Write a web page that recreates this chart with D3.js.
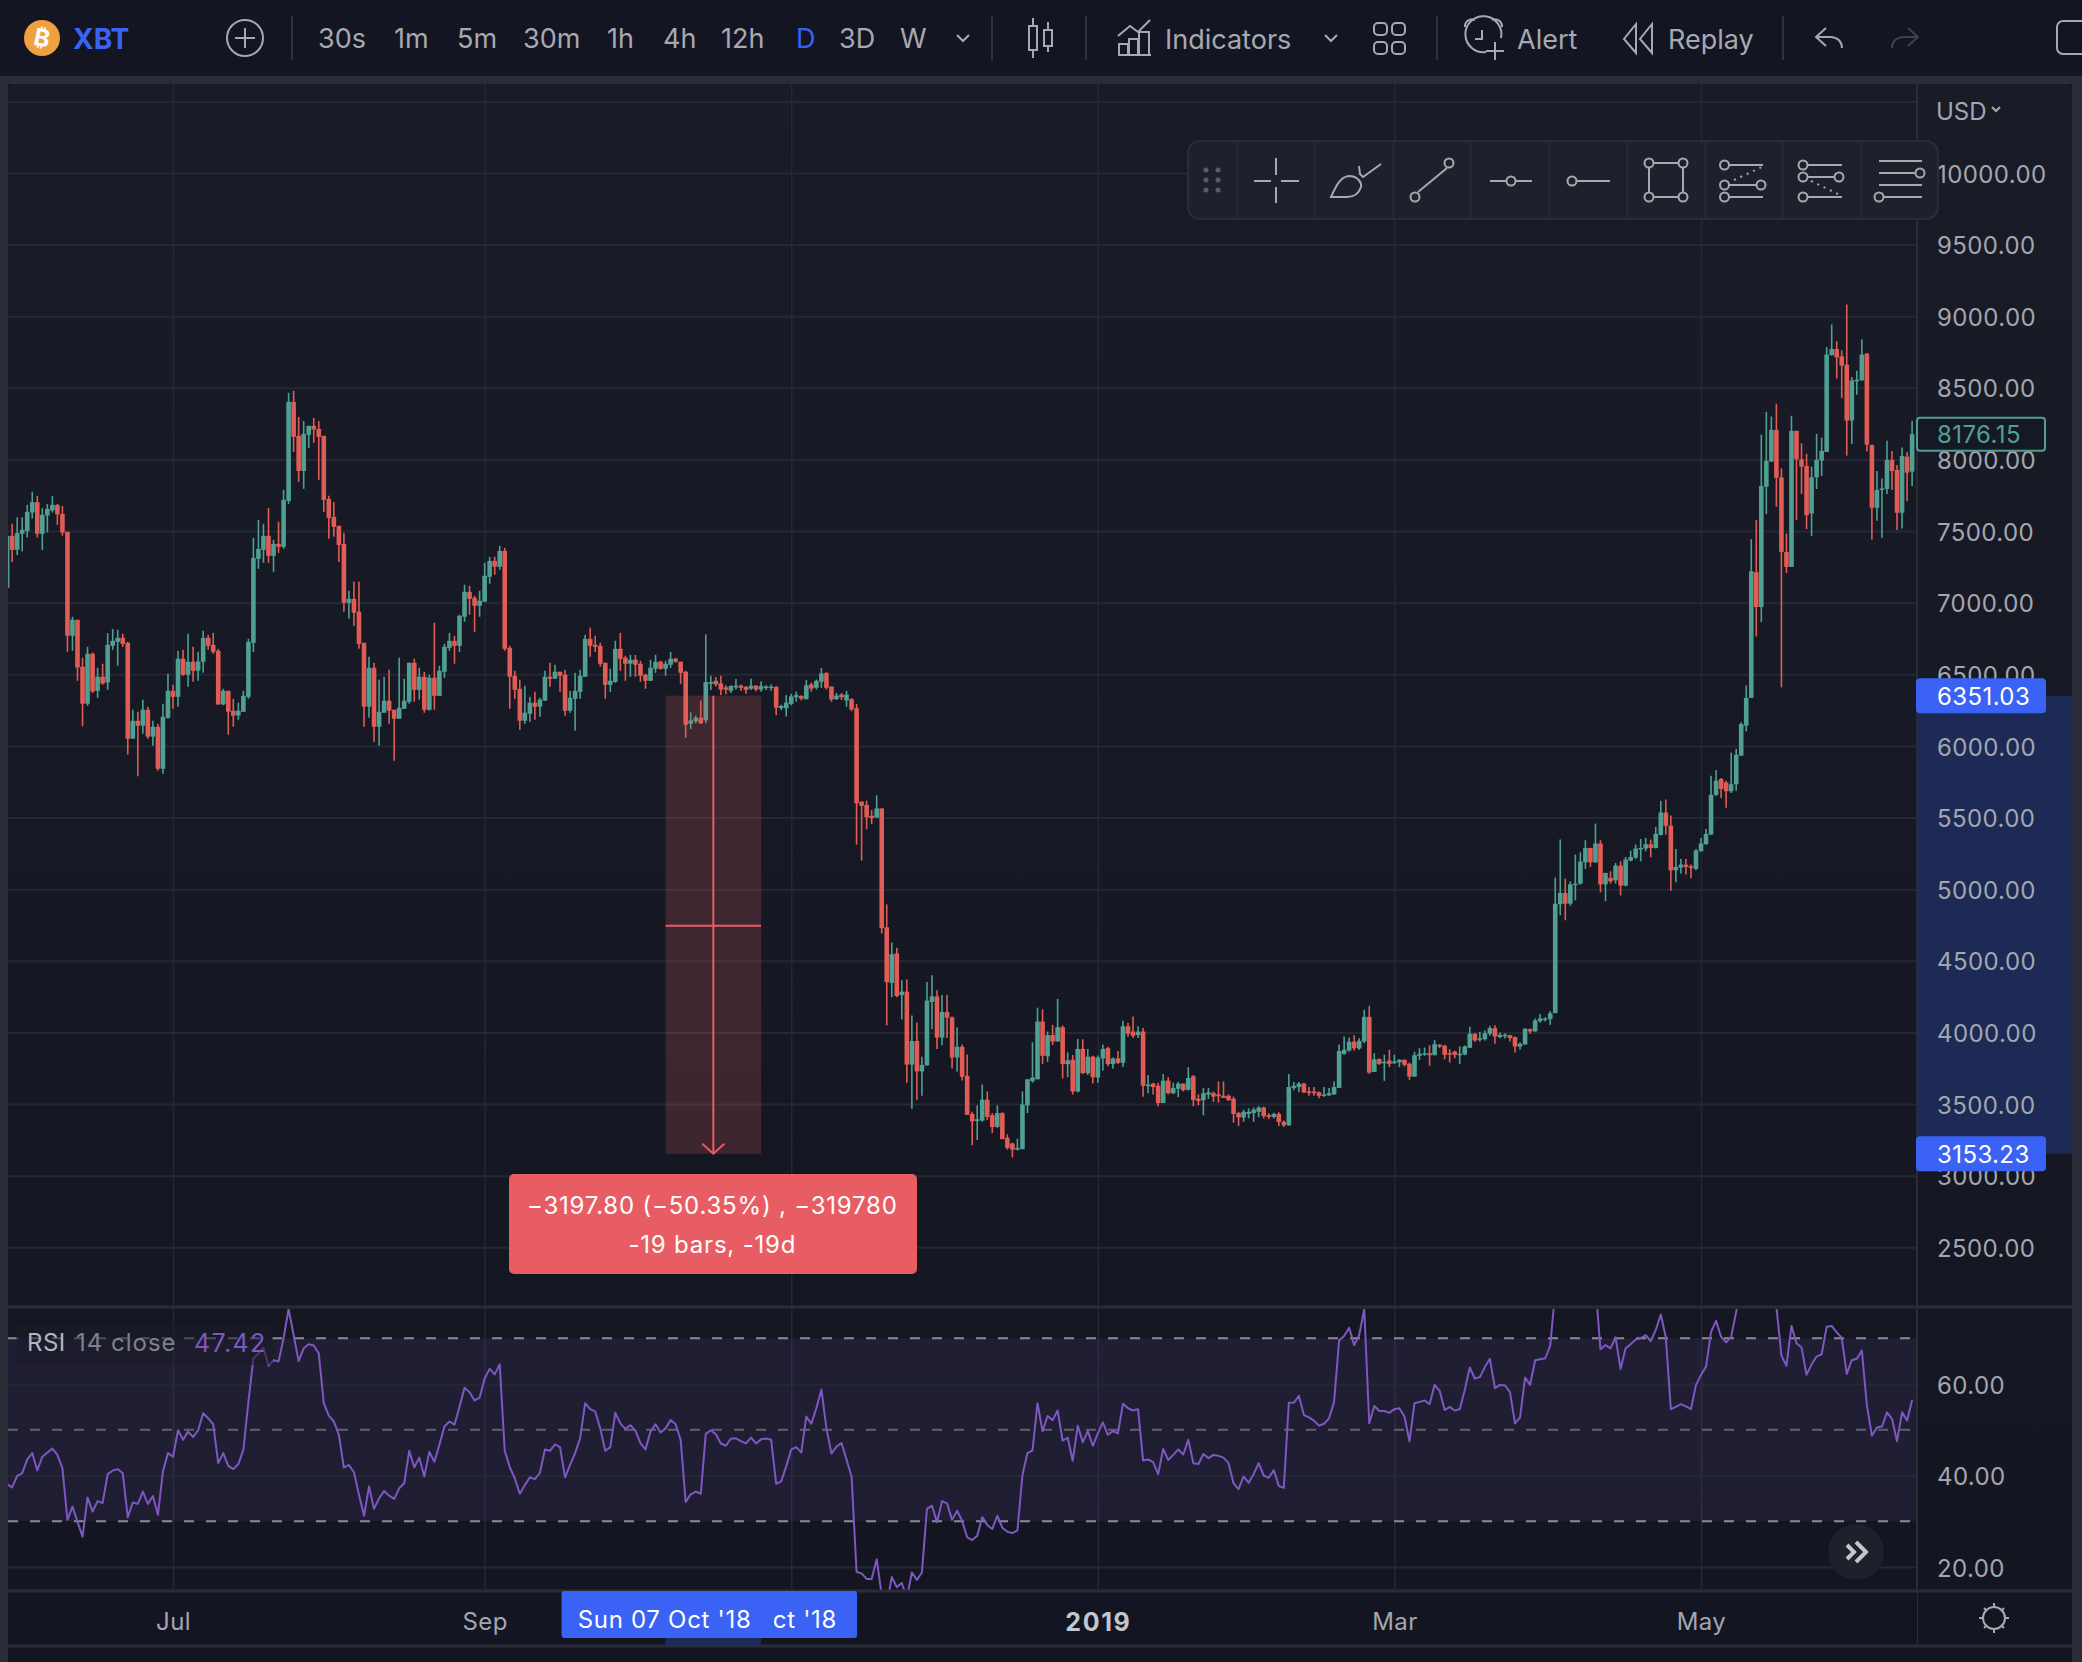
<!DOCTYPE html>
<html lang="en">
<head>
<meta charset="UTF-8">
<title>XBT daily chart</title>
<style>
  html, body { margin: 0; width: 2082px; height: 1662px; background: #131622; overflow: hidden; }
  svg { display: block; }
  text { font-family: Inter, "Noto Sans", sans-serif; }
  .axis text { font-family: Inter, "Noto Sans", sans-serif; font-size: 24px; fill: #a3a6af; letter-spacing: 0.4px; }
  .axis .domain { display: none; }
  .grid .domain { display: none; }
  .grid line { stroke: #252834; }
  .grid text { display: none; }
  .ui { fill: none; stroke: #a7a9b0; stroke-width: 2; }
  .tool { font-size: 27px; fill: #a7a9b0; }
</style>
</head>
<body>
<svg id="chart" width="2082" height="1662"></svg>
<script src="https://d3js.org/d3.v7.min.js"></script>
<script>
// daily bars, first one is 29 May 2018
const firstDay = Date.UTC(2018, 4, 29);

const opens = [
  7104,7467,7369,7481,7500,7630,7702,7481,7609,7644,7683,7620,7495,6769,6881,6553,6295,6644,6385,6483,
  6443,6699,6727,6755,6720,6051,6176,6141,6253,6065,6134,5841,6197,6385,6343,6609,6497,6588,6525,6588,
  6755,6706,6664,6290,6385,6246,6213,6239,6343,6720,7306,7369,7467,7327,7411,7390,7711,8402,8165,7920,
  8172,8235,8214,8165,7725,7599,7537,7411,6999,7027,6937,6720,6274,6546,6134,6232,6316,6253,6190,6260,
  6309,6581,6392,6483,6253,6476,6350,6518,6685,6734,6699,6902,7076,7034,6979,7007,7181,7292,7251,7362,
  6685,6490,6399,6176,6225,6302,6274,6316,6483,6469,6518,6497,6246,6329,6378,6483,6748,6706,6699,6581,
  6427,6448,6678,6616,6574,6602,6574,6497,6455,6539,6588,6539,6567,6609,6588,6518,6155,6173,6197,6179,
  6434,6455,6437,6409,6385,6409,6421,6412,6400,6421,6394,6406,6406,6412,6264,6264,6294,6340,6349,6327,
  6430,6406,6449,6509,6415,6327,6358,6318,6327,6264,5612,5588,5512,5500,5564,4734,4346,4552,4261,4285,
  3776,3940,3728,3770,4213,4252,3964,4143,4106,3825,3900,3697,3431,3382,3385,3531,3422,3340,3437,3264,
  3225,3182,3185,3491,3661,3673,4076,3834,3982,3937,4037,3779,3809,3588,3885,3716,3831,3685,3819,3891,
  3779,3819,3788,4043,4006,3982,4006,3625,3643,3628,3507,3664,3576,3607,3643,3600,3694,3537,3528,3567,
  3576,3567,3558,3558,3537,3437,3407,3431,3437,3446,3476,3422,3410,3431,3376,3352,3613,3619,3643,3588,
  3588,3582,3558,3561,3567,3613,3851,3874,3935,3888,3937,4109,3725,3813,3785,3804,3785,3792,3809,3781,
  3692,3837,3846,3855,3841,3914,3907,3855,3867,3844,3846,3893,3991,3949,3953,3991,4030,3967,3977,3981,
  3967,3902,3916,4023,4007,4079,4088,4093,4135,4895,4974,4899,5032,5039,5188,5288,5188,5319,5034,5079,
  5062,5165,5025,5200,5221,5281,5284,5314,5288,5379,5535,5444,5132,5151,5172,5160,5142,5265,5314,5382,
  5659,5769,5745,5684,5733,5932,6142,6336,7213,6970,7810,7985,8207,7875,7355,7250,8200,8001,7955,7623,
  7875,7992,8053,8727,8771,8720,8662,8272,8545,8552,8739,8102,7663,7787,7794,7997,7927,7628,8020,7915
];
const highs = [
  7467,7551,7597,7597,7683,7774,7746,7660,7690,7746,7690,7676,7495,6902,6881,6616,6692,6653,6546,6574,
  6788,6816,6811,6783,6727,6253,6239,6323,6274,6176,6155,6295,6504,6427,6664,6671,6783,6692,6657,6804,
  6776,6790,6678,6399,6385,6329,6302,6385,6748,7453,7579,7551,7662,7439,7565,7788,8465,8479,8297,8269,
  8235,8290,8269,8165,7746,7704,7537,7488,7083,7146,7146,6720,6622,6581,6462,6483,6532,6253,6616,6469,
  6581,6609,6546,6518,6497,6860,6560,6713,6790,6769,6916,7125,7118,7048,7083,7279,7320,7320,7397,7383,
  6699,6525,6462,6420,6343,6378,6336,6525,6581,6567,6518,6532,6385,6511,6532,6776,6825,6769,6720,6581,
  6539,6734,6790,6630,6636,6636,6595,6504,6602,6636,6595,6595,6657,6616,6588,6525,6234,6212,6318,6779,
  6491,6482,6491,6424,6424,6467,6430,6418,6470,6424,6452,6424,6430,6418,6288,6355,6364,6379,6355,6461,
  6443,6464,6543,6515,6415,6370,6370,6385,6334,6294,5612,5618,5552,5655,5564,4894,4628,4591,4364,4370,
  4119,4070,3831,4352,4400,4294,4261,4261,4112,4034,3916,3846,3446,3491,3637,3588,3437,3491,3443,3288,
  3231,3258,3588,3673,3931,4173,4161,4006,4052,4234,4049,3861,3843,3955,3952,3885,3837,3840,3916,3900,
  3825,3870,4082,4067,4112,4043,4031,3703,3649,3649,3710,3688,3649,3655,3643,3758,3703,3567,3613,3613,
  3588,3658,3658,3567,3552,3446,3461,3470,3476,3485,3482,3437,3440,3443,3385,3710,3655,3655,3649,3619,
  3619,3588,3619,3613,3658,3916,3972,3965,3981,3960,4158,4186,3855,3820,3844,3879,3844,3813,3813,3790,
  3865,3890,3895,3911,3949,3918,3914,3883,3872,3902,3909,4039,3995,4005,4014,4046,4051,4000,3995,3984,
  3972,3930,4030,4028,4098,4128,4107,4149,5081,5347,5074,5055,5242,5258,5342,5288,5458,5342,5114,5125,
  5183,5195,5225,5270,5312,5351,5358,5347,5435,5617,5626,5514,5281,5211,5211,5172,5281,5358,5421,5792,
  5832,5776,5757,5955,5979,6165,6422,7444,7577,8172,8333,8300,8389,7938,7483,8305,8200,8113,8039,7950,
  8179,8153,8785,8942,8825,8762,9082,8575,8620,8837,8743,8102,7920,7868,8130,8060,7962,8083,8050,8270
];
const lows = [
  7104,7285,7334,7358,7455,7588,7455,7369,7490,7630,7544,7467,6657,6664,6455,6137,6281,6369,6336,6427,
  6392,6671,6560,6692,5939,6051,5788,6085,6051,6002,5827,5806,6190,6260,6274,6490,6413,6448,6455,6511,
  6671,6643,6288,6285,6079,6134,6183,6239,6329,6657,7237,7278,7278,7216,7348,7376,7690,8053,7844,7795,
  8081,8116,7858,7634,7446,7460,7285,6937,6888,6839,6678,6134,6197,6029,6002,6232,6155,5897,6190,6260,
  6295,6309,6323,6232,6246,6253,6350,6476,6664,6574,6657,6867,6916,6797,6902,7007,7132,7195,7230,6664,
  6260,6329,6113,6155,6169,6183,6204,6316,6413,6469,6378,6211,6232,6106,6329,6483,6622,6657,6553,6329,
  6378,6441,6525,6455,6483,6483,6448,6399,6455,6511,6532,6490,6546,6581,6434,6058,6118,6158,6155,6158,
  6391,6415,6355,6361,6370,6394,6385,6364,6391,6382,6379,6391,6385,6215,6249,6206,6285,6309,6318,6324,
  6379,6394,6406,6394,6309,6321,6321,6273,6243,5312,5200,5418,5455,5500,4691,4049,4246,4246,4091,3649,
  3467,3528,3558,3770,4022,3885,3910,3961,3749,3728,3664,3425,3213,3249,3376,3388,3298,3334,3255,3182,
  3128,3176,3185,3437,3649,3673,3779,3794,3913,3937,3679,3688,3567,3582,3710,3703,3643,3649,3734,3764,
  3746,3779,3758,3970,3961,3961,3552,3576,3567,3485,3507,3567,3570,3549,3588,3594,3485,3491,3422,3537,
  3516,3510,3543,3522,3370,3346,3376,3400,3376,3407,3400,3394,3400,3346,3340,3349,3597,3582,3576,3558,
  3558,3540,3552,3558,3567,3613,3844,3867,3874,3879,3925,3711,3725,3774,3662,3758,3781,3758,3762,3669,
  3692,3809,3837,3767,3841,3890,3813,3790,3820,3781,3841,3893,3935,3937,3944,3977,3921,3960,3958,3937,
  3860,3879,3914,3991,4007,4070,4077,4053,4135,4818,4783,4885,4923,5032,5142,5156,5183,4978,4916,5039,
  5039,4957,5020,5195,5211,5195,5265,5223,5284,5375,5382,4990,5048,5109,5102,5076,5132,5263,5312,5379,
  5650,5637,5568,5672,5687,5932,6102,6336,6765,6865,7619,7985,7670,6410,7208,7250,7577,7759,7514,7465,
  7794,7885,8053,8727,8566,8428,8027,8109,8452,8552,8055,7441,7572,7453,7759,7787,7507,7518,7710,7815
];
const closes = [
  7467,7369,7486,7509,7634,7702,7481,7613,7655,7683,7616,7490,6769,6881,6548,6295,6644,6381,6483,6436,
  6706,6734,6755,6713,6051,6176,6141,6253,6065,6134,5841,6204,6385,6343,6609,6497,6588,6525,6590,6755,
  6699,6657,6290,6385,6239,6211,6246,6350,6727,7313,7376,7467,7327,7411,7390,7718,8402,8158,7920,8179,
  8235,8209,8158,7718,7592,7530,7404,6999,7027,6930,6713,6274,6546,6134,6239,6316,6246,6190,6267,6316,
  6581,6392,6483,6253,6476,6350,6525,6692,6734,6699,6909,7076,7027,6979,7014,7188,7292,7251,7362,6678,
  6483,6392,6176,6232,6302,6274,6323,6483,6469,6518,6490,6246,6336,6385,6490,6748,6699,6692,6574,6427,
  6455,6678,6609,6574,6602,6567,6490,6455,6546,6588,6539,6574,6609,6588,6511,6148,6179,6197,6158,6446,
  6446,6430,6394,6394,6418,6421,6406,6391,6421,6394,6418,6415,6415,6267,6279,6303,6346,6355,6330,6424,
  6400,6455,6506,6406,6324,6352,6340,6358,6255,5600,5582,5503,5497,5564,4728,4352,4546,4255,4285,3776,
  3940,3728,3773,4222,4252,3964,4143,4103,3825,3900,3691,3425,3379,3394,3531,3410,3340,3437,3255,3194,
  3182,3194,3497,3673,3685,4076,3837,3982,3937,4037,3779,3806,3588,3885,3716,3831,3688,3825,3885,3779,
  3819,3788,4043,3991,3976,4006,3628,3637,3619,3507,3664,3576,3613,3643,3597,3682,3528,3522,3576,3582,
  3552,3555,3543,3528,3431,3407,3446,3446,3461,3476,3416,3410,3431,3376,3352,3619,3628,3643,3582,3579,
  3576,3558,3567,3576,3619,3870,3879,3935,3890,3942,4109,3720,3813,3781,3795,3781,3797,3809,3774,3692,
  3841,3851,3855,3841,3918,3902,3844,3848,3844,3851,3902,3991,3944,3960,3995,4030,3972,3984,3984,3960,
  3902,3921,4026,4007,4084,4098,4098,4133,4899,4974,4899,5034,5039,5193,5288,5188,5319,5034,5114,5055,
  5165,5025,5207,5225,5284,5288,5314,5288,5386,5535,5442,5132,5156,5172,5156,5149,5270,5319,5386,5659,
  5757,5700,5684,5733,5939,6153,6336,7220,6970,7815,7990,8207,7873,7355,7250,8200,8001,7950,7612,7875,
  7997,8060,8732,8771,8713,8655,8272,8552,8557,8732,8104,7663,7787,7798,7997,7920,7628,8025,7908,8176
];
const rsi = [
  38.1,37.4,39.9,40.5,43.5,44.9,41.1,44.1,45.0,45.9,44.5,41.6,30.3,33.2,29.9,26.6,35.2,32.1,34.4,34.0,
  40.3,41.1,41.4,40.5,30.9,34.1,33.8,36.5,33.8,35.5,31.4,40.9,44.9,44.1,49.9,47.8,49.6,48.4,49.9,53.6,
  52.5,51.2,42.7,44.9,42.1,41.4,42.5,45.6,56.1,65.6,66.7,67.9,64.0,65.2,64.9,70.0,76.4,70.7,65.0,67.8,
  68.7,68.4,66.7,55.8,53.1,51.8,48.9,41.7,42.3,40.7,35.8,31.2,37.6,32.7,35.0,36.6,35.6,34.9,37.2,38.3,
  45.4,41.8,43.9,39.8,45.2,43.0,46.7,50.7,51.8,51.1,55.0,59.2,58.2,56.4,57.0,61.2,63.3,62.1,64.3,45.4,
  41.8,39.4,36.0,37.9,39.6,39.2,40.6,45.7,45.4,46.8,46.2,39.6,42.3,44.9,48.1,55.8,54.5,54.0,50.3,45.4,
  46.2,53.7,51.4,50.2,51.0,49.8,47.1,45.7,49.6,51.2,49.4,50.3,52.1,51.2,47.8,34.2,35.9,36.5,36.0,49.1,
  49.9,49.0,47.0,46.5,48.1,48.1,47.5,47.0,48.3,47.0,47.9,48.1,47.8,38.2,38.7,42.0,45.7,46.2,45.0,52.9,
  51.3,54.7,58.8,50.3,44.8,46.3,47.1,43.5,39.8,18.9,18.6,17.4,17.4,21.7,13.9,11.7,17.8,15.6,16.5,13.2,
  18.8,17.2,18.8,32.7,33.4,29.8,34.4,33.9,30.3,32.3,30.1,26.5,25.9,26.8,30.9,29.2,28.3,31.2,28.6,27.7,
  27.4,28.0,40.1,44.9,45.5,55.8,49.7,53.0,52.1,54.2,47.6,48.3,43.2,50.9,47.3,49.7,46.5,49.2,51.6,48.9,
  49.7,49.2,55.7,54.7,54.2,54.5,43.3,43.5,42.9,40.3,45.8,43.4,44.5,45.7,44.6,47.8,42.7,42.5,44.7,43.8,
  44.5,44.3,43.9,42.7,38.3,37.0,39.8,38.4,40.3,42.7,40.0,39.5,41.2,37.7,37.3,55.9,55.9,57.4,53.2,52.7,
  52.0,50.9,51.3,52.5,56.1,69.5,70.5,72.3,68.5,70.7,76.4,51.4,55.2,54.1,54.1,53.7,54.5,54.7,52.9,47.5,
  55.8,56.1,56.4,55.6,59.8,58.5,54.3,55.0,54.2,54.5,58.7,63.6,61.2,61.5,63.7,65.5,59.1,59.8,59.7,58.2,
  51.4,52.7,61.4,59.8,65.2,65.4,65.6,68.4,80.2,82.4,80.9,82.4,81.6,83.1,83.8,81.6,81.6,67.6,68.5,67.8,
  70.2,63.3,67.8,68.7,69.7,70.0,70.7,69.4,71.8,75.2,70.2,54.5,55.0,55.6,55.1,54.5,59.8,62.0,63.8,71.4,
  73.8,70.3,69.1,70.3,75.8,80.9,83.1,86.0,83.1,83.8,84.5,84.5,76.9,66.2,64.0,72.7,68.9,68.0,62.0,64.3,
  66.0,66.5,72.5,72.7,71.3,70.1,62.2,65.2,65.5,67.3,55.4,48.7,50.5,50.7,53.8,52.4,47.5,53.8,52.0,56.5
];

const priceTicks = [10000,9500,9000,8500,8000,7500,7000,6500,6000,5500,5000,4500,4000,3500,3000,2500];
const priceGridTicks = [10500].concat(priceTicks);
const rsiTicks = [60, 40, 20];
const rsiLevels = [70, 50, 30];
const monthDates = [Date.UTC(2018,6,1), Date.UTC(2018,8,1), Date.UTC(2018,10,1), Date.UTC(2019,0,1), Date.UTC(2019,2,1), Date.UTC(2019,4,1)];
const monthLabels = ["Jul", "Sep", "", "2019", "Mar", "May"];
const intervals = ["30s","1m","5m","30m","1h","4h","12h","D","3D","W"];
const intervalX = [318,394,457,523,607,663,721,796,839,900];

const measureTop = 6351.03, measureBottom = 3153.23, lastPrice = 8176.15;
const measureFrom = Date.UTC(2018,9,7), measureTo = Date.UTC(2018,9,26);

const dates = opens.map((d, i) => firstDay + i * 864e5);

const left = 8, right = 1917, paneTop = 84, paneBottom = 1307, rsiBottom = 1591, axisBottom = 1646;

const x = d3.scaleUtc().domain([monthDates[0], monthDates[5]]).range([173, 1701]);
const y = d3.scaleLinear().domain([10000, 3000]).range([173, 1175.7]);
const yRsi = d3.scaleLinear().domain([60, 20]).range([1384, 1567]);

const green = "#4fa093", red = "#e05c54", blue = "#3a62f4", band = "#1c2a55", lineCol = "#2a2d38", purple = "#7e57c2";
const barW = 4.6;

const svg = d3.select("#chart");
const defs = svg.append("defs");
const grad = defs.append("linearGradient").attr("id", "paneBg").attr("x1", 0).attr("x2", 0).attr("y1", 0).attr("y2", 1);
grad.append("stop").attr("offset", "0%").attr("stop-color", "#191c27");
grad.append("stop").attr("offset", "100%").attr("stop-color", "#131621");
defs.append("clipPath").attr("id", "priceClip").append("rect").attr("x", left).attr("y", paneTop).attr("width", right - left).attr("height", paneBottom - paneTop);
defs.append("clipPath").attr("id", "rsiClip").append("rect").attr("x", left).attr("y", paneBottom + 2).attr("width", right - left).attr("height", rsiBottom - paneBottom - 3);

// background and frame
svg.append("rect").attr("width", 2082).attr("height", 1662).attr("fill", "#131622");
svg.append("rect").attr("y", 76).attr("width", 2082).attr("height", 8).attr("fill", lineCol);
svg.append("rect").attr("y", 76).attr("width", left).attr("height", 1586).attr("fill", lineCol);
svg.append("rect").attr("x", 2072).attr("y", 76).attr("width", 10).attr("height", 1586).attr("fill", lineCol);
svg.append("rect").attr("x", left).attr("y", paneTop).attr("width", 2064).attr("height", axisBottom - paneTop).attr("rx", 6).attr("fill", "url(#paneBg)");

// grids
svg.append("g").attr("class", "grid").attr("transform", `translate(${right},0)`)
  .call(d3.axisLeft(y).tickValues(priceGridTicks).tickSize(right - left).tickFormat(""))
  .selectAll("line").attr("stroke-width", 2);
svg.append("g").attr("class", "grid").attr("transform", `translate(0,${rsiBottom})`)
  .call(d3.axisTop(x).tickValues(monthDates).tickSize(rsiBottom - paneTop).tickFormat(""))
  .selectAll("line").attr("stroke-width", 1.5);

// candles
const candles = svg.append("g").attr("clip-path", "url(#priceClip)");
candles.selectAll(".wick").data(dates).join("line").attr("class", "wick")
  .attr("x1", d => x(d)).attr("x2", d => x(d))
  .attr("y1", (d, i) => y(highs[i])).attr("y2", (d, i) => y(lows[i]))
  .attr("stroke", (d, i) => closes[i] >= opens[i] ? green : red).attr("stroke-width", 1.6);
candles.selectAll(".body").data(dates).join("rect").attr("class", "body")
  .attr("x", d => x(d) - barW / 2).attr("width", barW)
  .attr("y", (d, i) => y(Math.max(opens[i], closes[i])))
  .attr("height", (d, i) => Math.max(1.5, Math.abs(y(opens[i]) - y(closes[i]))))
  .attr("fill", (d, i) => closes[i] >= opens[i] ? green : red);

// measure box
const mx0 = x(measureFrom), mx1 = x(measureTo), mxc = (mx0 + mx1) / 2;
const my0 = y(measureTop), my1 = y(measureBottom), myc = (my0 + my1) / 2 + 1;
const mg = svg.append("g");
mg.append("rect").attr("x", mx0).attr("y", my0).attr("width", mx1 - mx0).attr("height", my1 - my0).attr("fill", "#e85d63").attr("opacity", 0.2);
mg.append("line").attr("x1", mx0).attr("x2", mx1).attr("y1", myc).attr("y2", myc).attr("stroke", "#e85d63").attr("stroke-width", 2);
mg.append("line").attr("x1", mxc).attr("x2", mxc).attr("y1", my0).attr("y2", my1).attr("stroke", "#e85d63").attr("stroke-width", 2);
mg.append("path").attr("d", `M${mxc - 11},${my1 - 10}L${mxc},${my1}L${mxc + 11},${my1 - 10}`).attr("fill", "none").attr("stroke", "#e85d63").attr("stroke-width", 2);
mg.append("rect").attr("x", 509).attr("y", 1174).attr("width", 408).attr("height", 100).attr("rx", 5).attr("fill", "#e85d63");
mg.append("text").attr("x", mxc - 1).attr("y", 1206).attr("dy", ".35em").attr("text-anchor", "middle").attr("font-size", 24).attr("letter-spacing", "0.8px").attr("fill", "#fff").text("−3197.80 (−50.35%) , −319780");
mg.append("text").attr("x", mxc - 1).attr("y", 1245).attr("dy", ".35em").attr("text-anchor", "middle").attr("font-size", 24).attr("letter-spacing", "0.8px").attr("fill", "#fff").text("-19 bars, -19d");

// price axis
svg.append("rect").attr("x", right).attr("y", my0).attr("width", 2072 - right).attr("height", my1 - my0).attr("fill", band);
svg.append("g").attr("class", "axis").attr("transform", `translate(${right},0)`)
  .call(d3.axisRight(y).tickValues(priceTicks).tickSize(0).tickPadding(20).tickFormat(d3.format(".2f")))
  .selectAll("text").attr("dy", ".38em");

// rsi pane
svg.append("rect").attr("x", left).attr("y", yRsi(70)).attr("width", right - left).attr("height", yRsi(30) - yRsi(70)).attr("fill", "#7e57c2").attr("opacity", 0.11);
svg.append("g").attr("class", "grid").attr("transform", `translate(${right},0)`)
  .call(d3.axisLeft(yRsi).tickValues(rsiTicks).tickSize(right - left).tickFormat(""))
  .selectAll("line").attr("stroke", "#2e2d3e").attr("stroke-width", 2);
svg.append("g").selectAll("line").data(rsiLevels).join("line")
  .attr("x1", left).attr("x2", right).attr("y1", d => yRsi(d)).attr("y2", d => yRsi(d))
  .attr("stroke", d => d === 50 ? "#62626e" : "#8c8c96").attr("stroke-width", 2).attr("stroke-dasharray", "10 12");
const rsiLine = d3.line().x((d, i) => x(dates[i])).y(d => yRsi(d));
svg.append("g").attr("clip-path", "url(#rsiClip)").append("path").datum(rsi)
  .attr("d", rsiLine).attr("fill", "none").attr("stroke", purple).attr("stroke-width", 2).attr("stroke-linejoin", "round");
svg.append("rect").attr("x", 16).attr("y", 1325).attr("width", 257).attr("height", 40).attr("fill", "#1a1c28").attr("opacity", 0.55);
svg.append("text").attr("x", 27).attr("y", 1343).attr("dy", ".35em").attr("font-size", 24).attr("letter-spacing", "0.5px").attr("fill", "#b4b6bc").text("RSI");
svg.append("text").attr("x", 76).attr("y", 1343).attr("dy", ".35em").attr("font-size", 24).attr("letter-spacing", "1px").attr("fill", "#7f818b").text("14 close");
svg.append("text").attr("x", 194).attr("y", 1343).attr("dy", ".35em").attr("font-size", 25).attr("letter-spacing", "1.4px").attr("fill", purple).text("47.42");
svg.append("g").attr("class", "axis").attr("transform", `translate(${right},0)`)
  .call(d3.axisRight(yRsi).tickValues(rsiTicks).tickSize(0).tickPadding(20).tickFormat(d3.format(".2f")))
  .selectAll("text").attr("dy", ".38em");

// separators
svg.append("line").attr("x1", left).attr("x2", 2072).attr("y1", paneBottom).attr("y2", paneBottom).attr("stroke", lineCol).attr("stroke-width", 3);
svg.append("line").attr("x1", left).attr("x2", 2072).attr("y1", rsiBottom).attr("y2", rsiBottom).attr("stroke", lineCol).attr("stroke-width", 3);
svg.append("line").attr("x1", left).attr("x2", 2072).attr("y1", axisBottom).attr("y2", axisBottom).attr("stroke", lineCol).attr("stroke-width", 3);
svg.append("line").attr("x1", right).attr("x2", right).attr("y1", paneTop).attr("y2", axisBottom).attr("stroke", lineCol).attr("stroke-width", 2);

// time axis
svg.append("rect").attr("x", left).attr("y", rsiBottom + 2).attr("width", right - left).attr("height", axisBottom - rsiBottom - 4).attr("fill", "#131622");
svg.append("rect").attr("x", mx0).attr("y", rsiBottom + 1).attr("width", mx1 - mx0).attr("height", axisBottom - rsiBottom - 2).attr("fill", band);
const timeAxis = svg.append("g").attr("class", "axis").attr("transform", `translate(0,${rsiBottom})`)
  .call(d3.axisBottom(x).tickValues(monthDates).tickSize(0).tickPadding(22).tickFormat((d, i) => monthLabels[i]));
timeAxis.selectAll("text").filter((d, i) => monthLabels[i] === "2019").attr("font-weight", 700).style("font-size", "25px").style("letter-spacing", "1.6px").style("fill", "#c4c6cc");

// date tags on axis and price tags
const tag2 = svg.append("g");
tag2.append("rect").attr("x", x(measureTo) - 96).attr("y", rsiBottom).attr("width", 192).attr("height", 47).attr("rx", 3).attr("fill", blue);
tag2.append("text").attr("x", x(measureTo) - 4).attr("y", 1620).attr("dy", ".35em").attr("text-anchor", "middle").attr("font-size", 24).attr("letter-spacing", "0.7px").attr("fill", "#fff").text("Fri 26 Oct '18");
const tag1 = svg.append("g");
tag1.append("rect").attr("x", x(measureFrom) - 104).attr("y", rsiBottom).attr("width", 212).attr("height", 47).attr("rx", 3).attr("fill", blue);
tag1.append("text").attr("x", x(measureFrom) - 1).attr("y", 1620).attr("dy", ".35em").attr("text-anchor", "middle").attr("font-size", 24).attr("letter-spacing", "0.7px").attr("fill", "#fff").text("Sun 07 Oct '18");

function priceTag(price, fill, stroke, col) {
  const g = svg.append("g").attr("transform", `translate(${right},${y(price)})`);
  g.append("rect").attr("y", -16.5).attr("width", 128).attr("height", 33).attr("rx", 3).attr("fill", fill).attr("stroke", stroke).attr("stroke-width", 2);
  g.append("text").attr("x", 20).attr("dy", ".38em").attr("font-size", 24).attr("letter-spacing", "0.4px").attr("fill", col).text(d3.format(".2f")(price));
}
priceTag(lastPrice, "#161923", green, green);
priceTag(measureTop, blue, blue, "#fff");
priceTag(measureBottom, blue, blue, "#fff");

svg.append("text").attr("x", 1936).attr("y", 112).attr("dy", ".35em").attr("font-size", 24).attr("fill", "#a3a6af").text("USD");
svg.append("path").attr("class", "ui").attr("d", "M1992,107l4,4l4,-4");

// top toolbar
const bar = svg.append("g");
bar.append("circle").attr("cx", 42).attr("cy", 38).attr("r", 18).attr("fill", "#f0a13f");
bar.append("text").attr("x", 42).attr("y", 38).attr("dy", ".35em").attr("text-anchor", "middle").attr("font-size", 24).attr("font-weight", 700).attr("fill", "#fff").attr("font-family", "DejaVu Sans").attr("transform", "rotate(12 42 38)").text("₿");
bar.append("text").attr("x", 73).attr("y", 39).attr("dy", ".35em").attr("font-size", 28).attr("font-weight", 700).attr("fill", blue).text("XBT");
bar.append("circle").attr("class", "ui").attr("cx", 245).attr("cy", 38).attr("r", 18);
bar.append("path").attr("class", "ui").attr("d", "M235,38h20M245,28v20");
bar.selectAll(".iv").data(intervals).join("text").attr("class", "tool")
  .attr("x", (d, i) => intervalX[i]).attr("y", 39).attr("dy", ".35em")
  .style("fill", d => d === "D" ? blue : "#a7a9b0").text(d => d);
bar.append("path").attr("class", "ui").attr("d", "M957,35l6,6l6,-6");
[292, 992, 1086, 1437, 1783].forEach(sx => {
  bar.append("line").attr("x1", sx).attr("x2", sx).attr("y1", 16).attr("y2", 60).attr("stroke", "#3a3c48").attr("stroke-width", 1.5);
});
// candle icon
bar.append("path").attr("class", "ui").attr("d", "M1033,18v8M1033,50v8M1048,22v8M1048,46v6");
bar.append("rect").attr("class", "ui").attr("x", 1029).attr("y", 26).attr("width", 8).attr("height", 24);
bar.append("rect").attr("class", "ui").attr("x", 1044).attr("y", 30).attr("width", 8).attr("height", 16);
// indicators icon
bar.append("path").attr("class", "ui").attr("d", "M1118,36l12,-10l8,6l12,-12M1118,55h33M1119,55v-11h9v11M1129,55v-16h9v16M1139,55v-23h10v23");
bar.append("text").attr("class", "tool").attr("x", 1165).attr("y", 40).attr("dy", ".35em").text("Indicators");
bar.append("path").attr("class", "ui").attr("d", "M1325,35l6,6l6,-6");
[[1374,23],[1392,23],[1374,42],[1392,42]].forEach(p => {
  bar.append("rect").attr("class", "ui").attr("x", p[0]).attr("y", p[1]).attr("width", 13).attr("height", 12).attr("rx", 4);
});
// alert icon
bar.append("path").attr("class", "ui").attr("d", "M1486,52a18,18,0,1,1,15,-14M1465,27a7,7,0,0,1,10,-7M1492,20a7,7,0,0,1,10,7M1482,30v9h-7M1495,42v18M1486,51h18");
bar.append("text").attr("class", "tool").attr("x", 1517).attr("y", 40).attr("dy", ".35em").text("Alert");
bar.append("path").attr("class", "ui").attr("d", "M1636,24l-12,15l12,14zM1652,24l-12,15l12,14z");
bar.append("text").attr("class", "tool").attr("x", 1668).attr("y", 40).attr("dy", ".35em").text("Replay");
bar.append("path").attr("class", "ui").attr("d", "M1826,28l-10,9l10,9M1816,37h14c8,0,12,5,12,11");
bar.append("path").attr("class", "ui").attr("stroke-opacity", 0.3).attr("d", "M1908,28l10,9l-10,9M1918,37h-14c-8,0,-12,5,-12,11");
bar.append("rect").attr("class", "ui").attr("x", 2057).attr("y", 21).attr("width", 40).attr("height", 33).attr("rx", 6);

// floating drawing toolbar
const ft = svg.append("g");
ft.append("rect").attr("x", 1188).attr("y", 141).attr("width", 750).attr("height", 78).attr("rx", 12).attr("fill", "#1e212c").attr("stroke", "#2a2d38").attr("stroke-width", 2);
[1237, 1315, 1393.5, 1471, 1549, 1627.5, 1705, 1783, 1861].forEach(dx => {
  ft.append("line").attr("x1", dx).attr("x2", dx).attr("y1", 142).attr("y2", 218).attr("stroke", "#2a2d38").attr("stroke-width", 1.5);
});
[1206, 1218].forEach(cx => [170, 180, 190].forEach(cy => {
  ft.append("circle").attr("cx", cx).attr("cy", cy).attr("r", 2.5).attr("fill", "#5a5d68");
}));
const dot = (cx, cy) => ft.append("circle").attr("class", "ui").attr("cx", cx).attr("cy", cy).attr("r", 4.5);
const seg = d => ft.append("path").attr("class", "ui").attr("d", d);
seg("M1254,181h17M1281,181h18M1276,158v17M1276,187v16");
seg("M1331,197C1336,186,1340,177,1349,176C1358,176,1362,183,1361,187C1359,193,1354,197,1347,197ZM1359,166l1,8l3,3l18,-13");
seg("M1418,192L1447,168"); dot(1415,197); dot(1449,163);
seg("M1490,181h16M1516,181h16"); dot(1511,181);
seg("M1577,181h33"); dot(1572,181);
seg("M1654,163h24M1654,197h24M1649,168v24M1683,168v24"); dot(1649,163); dot(1683,163); dot(1649,197); dot(1683,197);
seg("M1729,165h34M1729,185h28M1729,197h34"); dot(1724.5,165); dot(1724.5,185); dot(1761,185); dot(1724.5,197);
ft.append("path").attr("class", "ui").attr("stroke-dasharray", "2 5").attr("d", "M1734,180L1762,167");
seg("M1808,165h34M1808,177h27M1808,197h34"); dot(1803,165); dot(1803,177); dot(1839,177); dot(1803,197);
ft.append("path").attr("class", "ui").attr("stroke-dasharray", "2 5").attr("d", "M1811,181L1838,194");
seg("M1879,161h43M1879,173h37M1879,185h43M1884,197h38"); dot(1920,173); dot(1879,197);

// scroll button and sun icon
svg.append("circle").attr("cx", 1856).attr("cy", 1552).attr("r", 28).attr("fill", "#1e212c");
svg.append("path").attr("d", "M1847,1545l7,7l-7,7M1856,1542l10,10l-10,10").attr("fill", "none").attr("stroke", "#c4c6cc").attr("stroke-width", 4);
svg.append("circle").attr("class", "ui").attr("cx", 1994).attr("cy", 1618).attr("r", 11).attr("stroke", "#85878f");
svg.append("path").attr("class", "ui").attr("stroke", "#85878f").attr("d", "M1994,1603v4M1994,1629v4M1979,1618h4M2005,1618h4M1984,1608l3,3M2001,1625l3,3M1984,1628l3,-3M2001,1611l3,-3");
</script>
</body>
</html>
